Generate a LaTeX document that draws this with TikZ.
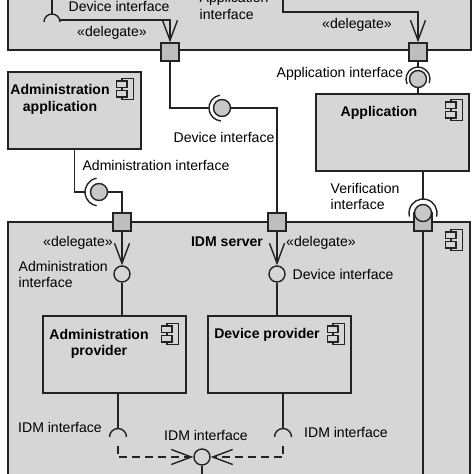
\documentclass[tikz,border=0pt]{standalone}
\usepackage{fontspec}
\setmainfont{Liberation Sans}
\usetikzlibrary{arrows.meta,positioning}
\definecolor{BoxGray}{RGB}{214,214,214}
\definecolor{PortGray}{RGB}{190,190,190}
\definecolor{BallGray}{RGB}{200,200,200}
\definecolor{LineGray}{RGB}{35,35,35}
\tikzset{
  compicon/.pic={
    \draw[LineGray,line width=0.6pt,fill=BoxGray] (-3,-10.5) rectangle (8.5,10.5);
    \draw[LineGray,line width=0.6pt,fill=BoxGray] (-8.5,-8) rectangle (2,-1.5);
    \draw[LineGray,line width=0.6pt,fill=BoxGray] (-8.5,1.5) rectangle (2,8);}
}

\begin{document}
\begin{tikzpicture}[x=0.02cm,y=-0.02cm,line width=0.8pt,
  font=\fontsize{8}{9.5}\selectfont,
  comp/.style={draw=LineGray,fill=BoxGray,minimum width=#1,minimum height=1.54cm,inner sep=0pt},
  port/.style={draw=LineGray,fill=PortGray,minimum size=0.36cm,inner sep=0pt},
  ball/.style={circle,draw=LineGray,fill=BallGray,minimum size=0.34cm,inner sep=0pt},
  hole/.style={circle,draw=LineGray,fill=BoxGray,minimum size=0.32cm,inner sep=0pt},
  sock/.style={circle,minimum size=#1,inner sep=0pt,outer sep=0pt},
  wire/.style={draw=LineGray},
  deleg/.style={-{Straight Barb[length=0.4cm,width=0.3cm]}},
  ttl/.style={font=\fontsize{8}{9.5}\selectfont\bfseries,align=center},
  lbl/.style={inner sep=0pt,align=left}]
  \useasboundingbox (0,0) rectangle (474,474);
  \fill[white] (0,0) rectangle (474,474);
  \clip (0,0) rectangle (474,474);

  \node[comp=9.26cm,minimum height=1.6cm] (upper) at (239.5,10) {};
  \node[comp=2.66cm] (admapp) at (74.5,110.5) {};
  \node[ttl] (admappT) at (60,99.5) {Administration\\application};
  \pic at (125,89) {compicon};
  \node[comp=3.06cm] (app) at (392.5,132.5) {};
  \node[ttl] (appT) at (379,113) {Application};
  \pic at (454,110) {compicon};
  \node[comp=9.24cm,minimum height=6cm] (idm) at (239,372) {};
  \node[ttl] (idmT) at (227,242) {IDM server};
  \pic at (454,240) {compicon};
  \node[comp=2.86cm] (admprov) at (114.5,354.5) {};
  \node[ttl] (admprovT) at (99,344) {Administration\\provider};
  \pic at (170,334) {compicon};
  \node[comp=2.86cm] (devprov) at (279.5,354.5) {};
  \node[ttl] (devprovT) at (267,335) {Device provider};
  \pic at (336,334) {compicon};

  \node[port] (p1) at (170,52) {};
  \node[port] (p2) at (418,52) {};
  \node[port] (p3) at (122,222) {};
  \node[port] (p4) at (277,222) {};
  \node[port] (p5) at (423,222) {};

  \node[sock=0.32cm] (sT) at (52,22) {};
  \node[ball] (bA) at (222,108) {};
  \node[sock=0.52cm] (sA) at (bA) {};
  \node[ball] (bB) at (418,79) {};
  \node[sock=0.48cm] (sB) at (bB) {};
  \node[ball] (bC) at (99,192) {};
  \node[sock=0.56cm] (sC) at (bC) {};
  \node[ball] (bD) at (423,213) {};
  \node[sock=0.56cm] (sD) at (bD) {};
  \node[hole] (hE) at (122,274) {};
  \node[hole] (hF) at (277,274) {};
  \node[sock=0.34cm] (sH) at (118,437) {};
  \node[sock=0.34cm] (sI) at (283,437) {};
  \node[hole] (hG) at (202,457) {};

  \draw[wire] (sT.0) arc[start angle=0,end angle=180,radius=0.16cm];
  \draw[wire] (sA.100) arc[start angle=100,end angle=265,radius=0.26cm];
  \draw[wire] (sB.-20) arc[start angle=-20,end angle=205,radius=0.24cm];
  \draw[wire] (sC.100) arc[start angle=100,end angle=260,radius=0.28cm];
  \draw[wire] (sD.-15) arc[start angle=-15,end angle=195,radius=0.28cm];
  \draw[wire] (sH.0) arc[start angle=0,end angle=180,radius=0.17cm];
  \draw[wire] (sI.0) arc[start angle=0,end angle=180,radius=0.17cm];

  \coordinate (topA) at (52,-5);
  \coordinate (topB) at (283,-5);
  \coordinate (bendB) at (283,12);
  \coordinate (botD) at (423,480);
  \coordinate (botG) at (202,480);

  \draw[wire] (topA) -- (sT.north);
  \draw[wire,deleg] (sT.15) -| (p1.north);
  \draw[wire,deleg] (topB) -- (bendB) -| (p2.north);
  \draw[wire] (p1.south) |- (sA.west);
  \draw[wire] (bA.east) -| (p4.north);
  \draw[wire] (p2.south) -- (sB.north);
  \draw[wire] (bB.south) -- (app.north -| bB);
  \draw[wire] (admapp.south) |- (sC.west);
  \draw[wire] (bC.east) -| (p3.north);
  \draw[wire] (app.south -| sD) -- (sD.north);
  \draw[wire] (p5.south) -- (botD);
  \draw[wire,deleg] (p3.south) -- (hE.north);
  \draw[wire,deleg] (p4.south) -- (hF.north);
  \draw[wire] (hE.south) -- (admprov.north -| hE);
  \draw[wire] (hF.south) -- (devprov.north -| hF);
  \draw[wire] (admprov.south -| sH) -- (sH.north);
  \draw[wire] (devprov.south -| sI) -- (sI.north);
  \draw[wire,dash pattern=on 0.16cm off 0.1cm,deleg] (sH.south) |- (hG.west);
  \draw[wire,dash pattern=on 0.16cm off 0.1cm,deleg] (sI.south) |- (hG.east);
  \draw[wire] (hG.south) -- (botG);

  \node[lbl,anchor=west] (lDevTop) at (68,6) {Device interface};
  \node[lbl,anchor=west] (lAppTop) at (199,6) {Application\\interface};
  \node[lbl] (lDel1) at (112,33) {«delegate»};
  \node[lbl] (lDel2) at (357,25) {«delegate»};
  \node[lbl,anchor=east] (lApp) at (404,74) {Application interface};
  \node[lbl] (lDev) at (224,137) {Device interface};
  \node[lbl] (lAdm) at (156,165) {Administration interface};
  \node[lbl,anchor=west] (lVer) at (330,196.5) {Verification\\interface};
  \node[lbl] (lDel3) at (78,243) {«delegate»};
  \node[lbl] (lDel4) at (321,243) {«delegate»};
  \node[lbl,anchor=west] (lAdmIn) at (18,274.5) {Administration\\interface};
  \node[lbl,anchor=west] (lDevIn) at (292,274) {Device interface};
  \node[lbl] (lIdm1) at (60,427) {IDM interface};
  \node[lbl] (lIdm2) at (206,435) {IDM interface};
  \node[lbl] (lIdm3) at (346,432) {IDM interface};
\end{tikzpicture}
\end{document}
